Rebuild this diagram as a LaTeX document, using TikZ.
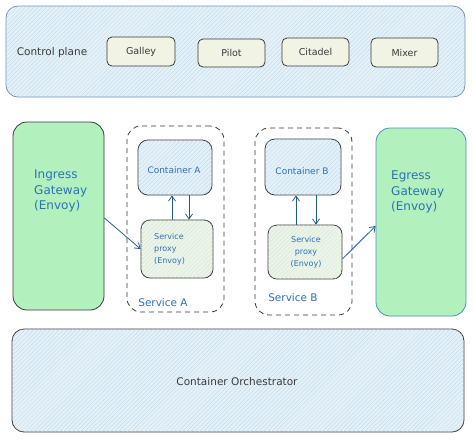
\documentclass[tikz,border=0pt]{standalone}
\usepackage{fontspec}
\setmainfont{DejaVu Sans}
\usetikzlibrary{arrows.meta,patterns.meta}
\definecolor{cpfill}{HTML}{E4F1F9}
\definecolor{cpline}{HTML}{6F90B5}
\definecolor{hatch}{HTML}{B9D6EA}
\definecolor{ylfill}{HTML}{F1F4E4}
\definecolor{grfill}{HTML}{B2F0BD}
\definecolor{pxfill}{HTML}{EAF5E8}
\definecolor{txtblue}{HTML}{2A72B8}
\definecolor{egline}{HTML}{4A90C4}
\definecolor{dark}{HTML}{3A3A3A}
\tikzset{
  box/.style={draw=dark, line width=0.8pt, rounded corners=7pt, inner sep=0pt},
  bluebox/.style={box, fill=cpfill, postaction={pattern={Lines[angle=45,distance=3pt,line width=0.3pt]}, pattern color=hatch}},
  ylbox/.style={box, fill=ylfill, rounded corners=5pt, font=\fontsize{9.5}{12}\selectfont, text=dark},
  gwbox/.style={box, fill=grfill, rounded corners=14pt},
  pxbox/.style={box, fill=pxfill, rounded corners=9pt, postaction={pattern={Lines[angle=45,distance=3pt,line width=0.3pt]}, pattern color=green!20!black!15}},
  svcbox/.style={draw=dark, line width=0.8pt, dashed, dash pattern=on 5pt off 4pt, rounded corners=14pt, inner sep=0pt},
  bluetxt/.style={text=txtblue, font=\fontsize{12}{15.5}\selectfont, align=left, inner sep=0pt},
  smalltxt/.style={text=txtblue, font=\fontsize{8}{12}\selectfont, align=left, inner sep=0pt},
  arr/.style={draw=txtblue!80!black, line width=0.8pt, -{Straight Barb[length=5pt,width=7pt]}}
}
\begin{document}
\begin{tikzpicture}[x=1pt,y=-1pt]
\useasboundingbox (0,0) rectangle (474,440);
% control plane
\node[bluebox, draw=cpline, rounded corners=12pt, minimum width=459pt, minimum height=91pt] (cp) at (235.5,51.5) {};
\node[text=dark, font=\fontsize{10.5}{12}\selectfont, inner sep=0pt] (cpt) at (52,53) {Control plane};
\node[ylbox, minimum width=68pt, minimum height=29pt] (galley) at (141,51.5) {Galley};
\node[ylbox, minimum width=67pt, minimum height=28pt] (pilot) at (231.5,53) {Pilot};
\node[ylbox, minimum width=67pt, minimum height=28pt] (citadel) at (315.5,52) {Citadel};
\node[ylbox, minimum width=67pt, minimum height=29pt] (mixer) at (404.5,52.5) {Mixer};
% gateways
\node[gwbox, minimum width=91pt, minimum height=188pt] (ig) at (58.5,216) {};
\node[bluetxt, anchor=north west] (igt) at (34,170) {Ingress\\Gateway\\(Envoy)};
\node[gwbox, draw=egline, minimum width=90pt, minimum height=188pt] (eg) at (421,222) {};
\node[bluetxt, anchor=north west] (egt) at (391,171) {Egress\\Gateway\\(Envoy)};
% service A
\node[svcbox, minimum width=97pt, minimum height=186pt] (sa) at (175.5,219) {};
\node[text=txtblue, font=\fontsize{10.5}{12}\selectfont, inner sep=0pt] (sat) at (163,303) {Service A};
\node[bluebox, rounded corners=10pt, minimum width=74pt, minimum height=55pt] (ca) at (175,167.5) {};
\node[bluetxt, font=\fontsize{9}{12}\selectfont] (cat) at (174,170) {Container A};
\node[pxbox, minimum width=72pt, minimum height=58pt] (pa) at (177,249) {};
\node[smalltxt, anchor=west] (pat) at (154,249) {Service\\proxy\\(Envoy)};
% service B
\node[svcbox, minimum width=97pt, minimum height=187pt] (sb) at (303.5,221.5) {};
\node[text=txtblue, font=\fontsize{10.5}{12}\selectfont, inner sep=0pt] (sbt) at (293,298) {Service B};
\node[bluebox, rounded corners=10pt, minimum width=76pt, minimum height=56pt] (cb) at (303,167) {};
\node[bluetxt, font=\fontsize{9}{12}\selectfont] (cbt) at (302,171) {Container B};
\node[pxbox, minimum width=74pt, minimum height=54pt] (pb) at (305,252) {};
\node[smalltxt, align=center] (pbt) at (306,252) {Service\\proxy\\(Envoy)};
% orchestrator
\node[bluebox, rounded corners=12pt, minimum width=452pt, minimum height=103pt] (orch) at (238,380.5) {};
\node[text=dark, font=\fontsize{10.5}{12}\selectfont, inner sep=0pt] (orcht) at (237,382) {Container Orchestrator};
% arrow coordinates
\coordinate (xa1) at (172,0);
\coordinate (xa2) at (189,0);
\coordinate (xb1) at (296,0);
\coordinate (xb2) at (316,0);
\coordinate (yi1) at (0,218);
\coordinate (yi2) at (0,249);
\coordinate (ye1) at (0,259);
\coordinate (ye2) at (0,226);
% arrows
\draw[arr] (pa.north -| xa1) -- (ca.south -| xa1);
\draw[arr] (ca.south -| xa2) -- (pa.north -| xa2);
\draw[arr] (pb.north -| xb1) -- (cb.south -| xb1);
\draw[arr] (cb.south -| xb2) -- (pb.north -| xb2);
\draw[arr] (ig.east |- yi1) -- (pa.west |- yi2);
\draw[arr] (pb.east |- ye1) -- (eg.west |- ye2);
\end{tikzpicture}
\end{document}
